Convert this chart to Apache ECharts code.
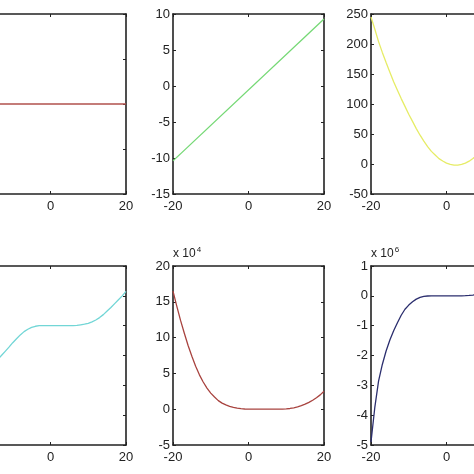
<!DOCTYPE html>
<html>
<head>
<meta charset="utf-8">
<script src="https://cdn.jsdelivr.net/npm/echarts@6/dist/echarts.min.js"></script>
<style>
  html, body { margin: 0; padding: 0; background: #fff; }
  #chart { width: 474px; height: 474px; }
</style>
</head>
<body>
<div id="chart"></div>
<script>
// x 取值
var xs = [-20, -19, -18, -17, -16, -15, -14, -13, -12, -11, -10, -9, -8, -7, -6, -5, -4, -3, -2, -1,
  0, 1, 2, 3, 4, 5, 6, 7, 8, 9, 10, 11, 12, 13, 14, 15, 16, 17, 18, 19, 20];
var lineX = [-20, 20];
var xTicks = [-20, 0, 20];

// 各子图数据
var constY = [0, 0];
var linY = [-10.4, 9.3];
var quadY = [245, 225, 204, 186, 169, 153, 137, 123, 109, 96, 83, 71, 59, 48, 38, 29, 21, 15, 9, 5,
  1.4, -0.8, -1.9, -1.9, -0.8, 1.4, 4.7, 9.1, 14.6, 21, 29, 38, 48, 59, 71, 84, 98, 114, 130, 148, 166];
var cubeY = [-2.6, -2.3, -2.0, -1.75, -1.5, -1.3, -1.13, -1.0, -0.86, -0.72, -0.57, -0.44, -0.31, -0.2, -0.12, -0.06, -0.02, 0, 0, 0,
  0, 0, 0, 0, 0, 0, 0, 0.01, 0.03, 0.05, 0.08, 0.13, 0.19, 0.27, 0.37, 0.49, 0.61, 0.74, 0.87, 1.0, 1.15];
var quartY = [16.5, 14.4, 12.4, 10.6, 8.9, 7.4, 6.0, 4.8, 3.8, 2.95, 2.25, 1.7, 1.2, 0.85, 0.6, 0.4, 0.25, 0.14, 0.07, 0.03,
  0.01, 0, 0, 0, 0, 0, 0, 0, 0, 0.02, 0.05, 0.1, 0.2, 0.33, 0.5, 0.7, 0.95, 1.25, 1.6, 2.0, 2.5];   // x 10^4
var quintY = [-4.9, -3.75, -2.86, -2.3, -1.85, -1.48, -1.17, -0.9, -0.65, -0.45, -0.31, -0.2, -0.11, -0.05, -0.02, -0.005, 0, 0, 0, 0,
  0, 0, 0, 0, 0, 0.005, 0.012, 0.025, 0.05, 0.09, 0.15, 0.24, 0.37, 0.56, 0.8, 1.14, 1.57, 2.13, 2.83, 3.7, 4.8];  // x 10^6

function pairs(x, y) {
  return x.map(function (v, i) { return [v, y[i]]; });
}

var panels = [
  { left: -25, top: 14, height: 180, ymin: -1, ymax: 1, step: 0.5, data: pairs(lineX, constY), color: '#b0504c' },
  { left: 173, top: 14, height: 180, ymin: -15, ymax: 10, step: 5, data: pairs(lineX, linY), color: '#74d874' },
  { left: 371, top: 14, height: 180, ymin: -50, ymax: 250, step: 50, data: pairs(xs, quadY), color: '#e6ec66' },
  { left: -25, top: 266, height: 179, ymin: -4, ymax: 2, step: 1, data: pairs(xs, cubeY), color: '#72d6d6' },
  { left: 173, top: 266, height: 179, ymin: -5, ymax: 20, step: 5, data: pairs(xs, quartY), color: '#a8433f', exp: '4' },
  { left: 371, top: 266, height: 179, ymin: -5, ymax: 1, step: 1, data: pairs(xs, quintY), color: '#2b2e6e', exp: '6' }
];

var ink = '#222';
var frame = { show: true, onZero: false, lineStyle: { color: ink, width: 1.6 } };
var tick = { show: true, inside: true, length: 3, lineStyle: { color: ink, width: 1 } };
var font = { color: ink, fontSize: 13, fontFamily: 'Liberation Sans, Arial, sans-serif' };

var option = { animation: false, grid: [], xAxis: [], yAxis: [], series: [] };

panels.forEach(function (p, i) {
  // outerBoundsMode none: 让左右两列可以超出画布
  option.grid.push({
    left: p.left, top: p.top, width: 151, height: p.height,
    containLabel: false, outerBoundsMode: 'none'
  });
  option.xAxis.push({
    type: 'value', gridIndex: i, min: -20, max: 20, interval: 20, position: 'bottom',
    axisLine: frame, axisTick: tick, splitLine: { show: false },
    axisLabel: Object.assign({ margin: 6 }, font)
  });
  option.xAxis.push({
    type: 'value', gridIndex: i, min: -20, max: 20, interval: 20, position: 'top',
    axisLine: frame, axisTick: tick, splitLine: { show: false }, axisLabel: { show: false }
  });
  var yLeft = {
    type: 'value', gridIndex: i, min: p.ymin, max: p.ymax, interval: p.step, position: 'left',
    axisLine: frame, axisTick: tick, splitLine: { show: false },
    axisLabel: Object.assign({ margin: 3 }, font)
  };
  if (p.exp) {
    yLeft.name = '{a|x 10}{b|' + p.exp + '}';
    yLeft.nameLocation = 'end';
    yLeft.nameGap = 1;
    yLeft.nameTextStyle = {
      align: 'left',
      rich: {
        a: { color: ink, fontSize: 12, fontFamily: font.fontFamily, lineHeight: 14, verticalAlign: 'bottom' },
        b: { color: ink, fontSize: 8, fontFamily: font.fontFamily, lineHeight: 14, verticalAlign: 'top', padding: [0, 0, 6, 1] }
      }
    };
  }
  option.yAxis.push(yLeft);
  option.yAxis.push({
    type: 'value', gridIndex: i, min: p.ymin, max: p.ymax, interval: p.step, position: 'right',
    axisLine: frame, axisTick: tick, splitLine: { show: false }, axisLabel: { show: false }
  });
  option.series.push({
    type: 'line', xAxisIndex: i * 2, yAxisIndex: i * 2, data: p.data,
    showSymbol: false, smooth: false, clip: true,
    lineStyle: { color: p.color, width: 1.3 }
  });
});

var myChart = echarts.init(document.getElementById('chart'));
myChart.setOption(option);
</script>
</body>
</html>
